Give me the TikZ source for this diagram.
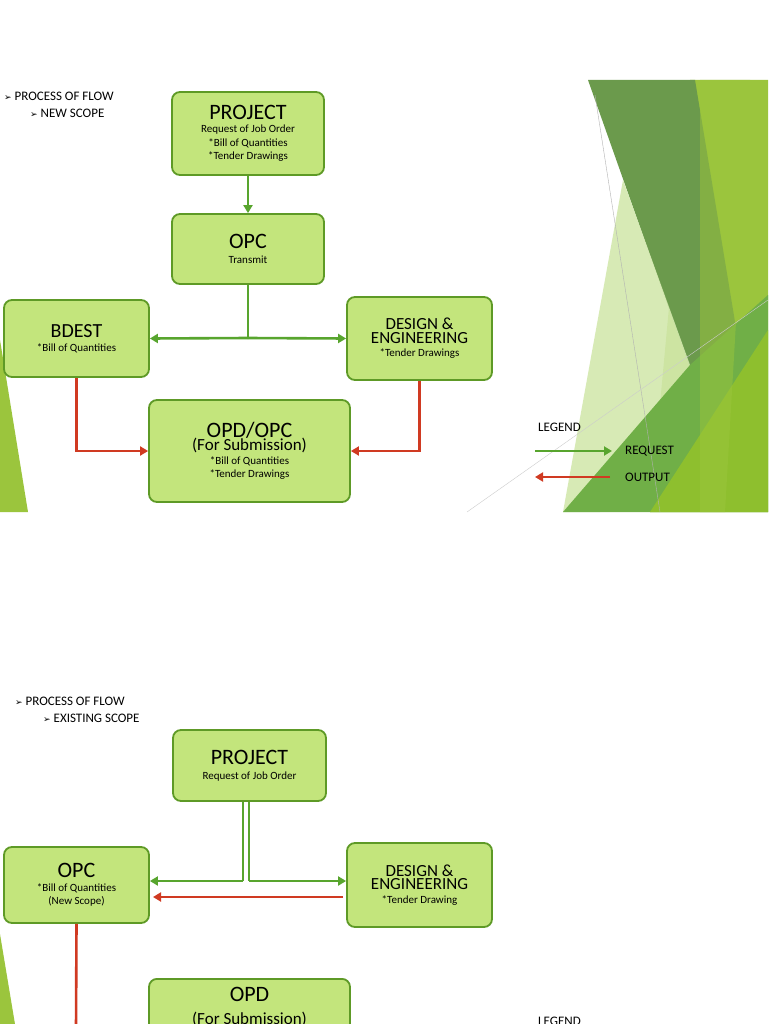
\documentclass[tikz,border=0pt]{standalone}
\usepackage{fontspec}
\setmainfont{Carlito}
\newfontfamily\sym{DejaVu Sans}
\usetikzlibrary{arrows.meta}
\definecolor{boxfill}{HTML}{C3E57C}
\definecolor{boxdraw}{HTML}{5E9A26}
\definecolor{reqc}{HTML}{58A52E}
\definecolor{outc}{HTML}{D03A22}
\definecolor{dkg}{HTML}{6B9A4C}
\definecolor{ltg}{HTML}{9BC53D}
\definecolor{pale}{HTML}{D3E8AE}
\definecolor{midg}{HTML}{70AF47}
\definecolor{lime}{HTML}{8EBF2E}
\tikzset{
 box/.style={draw=boxdraw,line width=1.8pt,fill=boxfill,rounded corners=8pt,align=center,inner sep=1pt,font=\fontsize{11}{13.5}\selectfont},
 req/.style={draw=reqc,line width=2.6pt,-{Triangle[length=8pt,width=9pt]}},
 outp/.style={draw=outc,line width=2.6pt,-{Triangle[length=8pt,width=9pt]}},
 ttl/.style={font=\fontsize{22}{24}\selectfont},
 hd/.style={font=\fontsize{13}{15}\selectfont,anchor=west,inner sep=0pt},
 lg/.style={font=\fontsize{13}{15}\selectfont,anchor=west,inner sep=0pt}
}
\newcommand{\deco}[1]{%
 \begin{scope}[yshift=-#1pt]
  \fill[ltg] (690,80)--(768,80)--(768,512)--(650,512)--cycle;
  \fill[dkg] (588,80)--(695,80)--(738,340)--(703,405)--cycle;
  \fill[pale,opacity=0.9] (623,180)--(690,365)--(600,512)--(563,512)--cycle;
  \fill[midg] (563,512)--(690,365)--(768,295)--(768,512)--cycle;
  \fill[lime] (650,512)--(768,330)--(768,512)--cycle;
  \fill[ltg,opacity=0.5] (700,80)--(750,80)--(725,512)--(700,512)--cycle;
  \draw[gray!60,line width=0.4pt] (595,95)--(660,512);
  \draw[gray!40,line width=0.4pt] (467,512)--(768,300);
 \end{scope}}
\begin{document}
\begin{tikzpicture}[x=1pt,y=-1pt]
\useasboundingbox (0,0) rectangle (768,1024);
\fill[white] (0,0) rectangle (768,1024);
\deco{0}
\begin{scope}
\clip (0,600) rectangle (768,1024);
\deco{-594}
\end{scope}
\fill[ltg] (0,340)--(28,512)--(0,512)--cycle;
\fill[ltg] (0,934)--(15,1024)--(0,1024)--cycle;

% ---------- slide 1
\node[hd] (h1) at (4,96) {{\sym\fontsize{9}{9}\selectfont ➢}\ PROCESS OF FLOW};
\node[hd] (h2) at (30,113) {{\sym\fontsize{9}{9}\selectfont ➢}\ NEW SCOPE};
\node[box,minimum width=152pt,minimum height=83pt] (p1) at (248,133.5)
 {{\fontsize{22}{24}\selectfont PROJECT}\\Request of Job Order\\*Bill of Quantities\\*Tender Drawings};
\node[box,minimum width=152pt,minimum height=70pt] (o1) at (248,249)
 {{\fontsize{22}{24}\selectfont OPC}\\[2pt]Transmit};
\node[box,minimum width=145pt,minimum height=77pt] (b1) at (76.5,338.5)
 {{\fontsize{20}{24}\selectfont BDEST}\\*Bill of Quantities};
\node[box,minimum width=145pt,minimum height=83pt] (d1) at (419.5,338.5)
 {{\fontsize{17}{20}\selectfont DESIGN \&}\\{\fontsize{17}{20}\selectfont ENGINEERING}\\*Tender Drawings};
\node[box,minimum width=201pt,minimum height=102pt] (s1) at (249.5,451)
 {{\fontsize{22}{24}\selectfont OPD/OPC}\\{\fontsize{17}{20}\selectfont (For Submission)}\\*Bill of Quantities\\*Tender Drawings};
\coordinate (j1) at (248,338);
\draw[req] (p1.south) -- (o1.north);
\draw[draw=reqc,line width=2.6pt] (o1.south) -- (j1);
\draw[req] (j1) -- (b1.east);
\draw[req] (j1) -- (d1.west);
\draw[outp] (b1.south) |- (s1.west);
\draw[outp] (d1.south) |- (s1.east);
\node[lg] (lg1) at (538,427) {LEGEND};
\coordinate (la1) at (535,451); \coordinate (la2) at (612,451);
\draw[req] (la1) -- (la2);
\node[lg] (rq1) at (625,451) {REQUEST};
\coordinate (lb1) at (610,477); \coordinate (lb2) at (535,477);
\draw[outp] (lb1) -- (lb2);
\node[lg] (op1) at (625,477) {OUTPUT};

% ---------- slide 2
\node[hd] (h3) at (15,701) {{\sym\fontsize{9}{9}\selectfont ➢}\ PROCESS OF FLOW};
\node[hd] (h4) at (43,718) {{\sym\fontsize{9}{9}\selectfont ➢}\ EXISTING SCOPE};
\node[box,minimum width=153pt,minimum height=71pt] (p2) at (249.5,765.5)
 {{\fontsize{22}{24}\selectfont PROJECT}\\[2pt]Request of Job Order};
\node[box,minimum width=145pt,minimum height=76pt] (o2) at (76.5,885)
 {{\fontsize{22}{24}\selectfont OPC}\\*Bill of Quantities\\(New Scope)};
\node[box,minimum width=145pt,minimum height=84pt] (d2) at (419.5,885)
 {{\fontsize{17}{20}\selectfont DESIGN \&}\\{\fontsize{17}{20}\selectfont ENGINEERING}\\*Tender Drawing};
\node[box,minimum width=201pt,minimum height=100pt,anchor=north] (s2) at (249.5,978) {};
\node[ttl] (s2t) at (249.5,994) {OPD};
\node[font=\fontsize{17}{20}\selectfont] (s2u) at (249.5,1019) {(For Submission)};
\coordinate (q1) at (243,881); \coordinate (q2) at (249,881);
\draw[draw=reqc,line width=2.4pt] (p2.south -| q1) -- (q1);
\draw[req] (q1) -- (o2.east|-q1);
\draw[draw=reqc,line width=2.4pt] (p2.south -| q2) -- (q2);
\draw[req] (q2) -- (d2.west|-q2);
\coordinate (r1) at (343,897); \coordinate (r0) at (153,897);
\draw[outp] (r1) -- (r0);
\coordinate (r2) at (76,1030);
\draw[draw=outc,line width=2.6pt] (o2.south) -- (r2);
\node[lg] (lg2) at (538,1021) {LEGEND};
\end{tikzpicture}
\end{document}
